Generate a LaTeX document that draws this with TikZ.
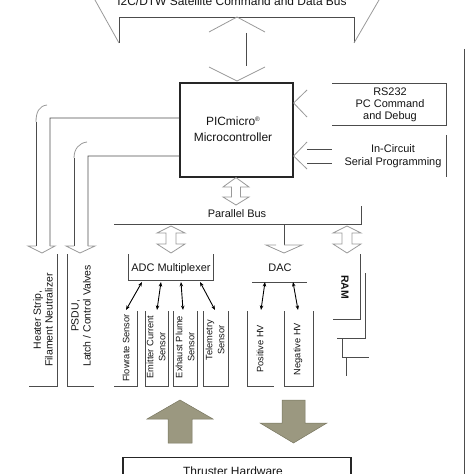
\documentclass[tikz,border=0pt]{standalone}
\usepackage{fontspec}
\setmainfont{Liberation Sans}
\usetikzlibrary{arrows.meta}
\definecolor{thrfill}{RGB}{155,152,128}
\definecolor{thrdraw}{RGB}{120,118,96}
\definecolor{txtc}{RGB}{20,20,20}
\newcommand\fntXII{\fontsize{12}{14}\selectfont}
\newcommand\fntXI{\fontsize{11}{12.3}\selectfont}
\newcommand\fntX{\fontsize{10.5}{12}\selectfont}
\newcommand\fntIX{\fontsize{9.3}{12}\selectfont}
\begin{document}
\begin{tikzpicture}[x=1bp,y=-1bp,
  ln/.style={draw=black!70, line width=0.9bp},
  lt/.style={draw=black!40, line width=0.8bp},
  boxst/.style={draw=black!85, line width=1.2bp},
  txt/.style={text=txtc, inner sep=0pt, font=\fntXI},
  rtxt/.style={text=txtc, inner sep=0pt, rotate=90, align=center},
  sarr/.style={draw=black, line width=0.9bp, {Stealth[length=4.5bp,width=3.5bp]}-{Stealth[length=4.5bp,width=3.5bp]}},
  thrarrow/.style={fill=thrfill, draw=thrdraw, line width=0.5bp}
]
\useasboundingbox (0,0) rectangle (474,474);
\clip (0,0) rectangle (474,474);

% top bus
\node[txt, font=\fntXII, anchor=base] (bus) at (232,6) {I2C/DTW Satellite Command and Data Bus};
\draw[lt] (95,0) -- (119,43);
\draw[ln] (119,43) -- (119,17) -- (354,17) -- (354,43);
\draw[lt] (354,43) -- (379,0);

% bus <-> PIC
\coordinate (tatop) at (237,17);
\coordinate (tabot) at (237,81);
\draw[lt] (209,32) -- (tatop) -- (265,32);
\draw[ln] (246,33) -- (246,66);
\draw[lt] (209,67) -- (tabot) -- (265,67);

% PIC box
\node[boxst, minimum width=113bp, minimum height=94bp, inner sep=0pt] (pic) at (236.5,130) {};
\node[txt, font=\fntXII, anchor=base] (pic1) at (233,126) {PICmicro\raisebox{4bp}{\fontsize{6.5}{7}\selectfont ®}};
\node[txt, font=\fntXII, anchor=base] (pic2) at (233,142) {Microcontroller};

% right side: RS232 and ICSP
\draw[ln] (332,83) -- (446,83) -- (446,125) -- (332,125);
\draw[lt] (307,90) -- ([yshift=27bp]pic.east) -- (307,117);
\node[txt, anchor=base] (rs1) at (390,96) {RS232};
\node[txt, anchor=base] (rs2) at (390,108) {PC Command};
\node[txt, anchor=base] (rs3) at (390,120) {and Debug};
\draw[lt] (307,142) -- ([yshift=-26bp]pic.east) -- (307,169);
\draw[ln] (307,149) -- (332,149);
\draw[ln] (307,163) -- (332,163);
\draw[ln] (446,135) -- (446,177);
\node[txt, anchor=base] (ic1) at (393,153) {In-Circuit};
\node[txt, anchor=base] (ic2) at (393,166) {Serial Programming};
\draw[ln] (464,49) -- (464,474);

% left pipes
\draw[ln] ([yshift=12bp]pic.west) -- (50,118) -- (50,246);
\draw[lt] (47,105) .. controls (39,106) and (36,112) .. (36,122);
\draw[ln] (36,122) -- (36,246);
\draw[lt] (36,246) -- (28,246) -- (42,253) -- (55,246) -- (50,246);
\draw[ln] ([yshift=-26bp]pic.west) -- (88,156) -- (88,246);
\draw[lt] (87,142) .. controls (79,143) and (74,149) .. (74,158);
\draw[ln] (74,158) -- (74,246);
\draw[lt] (74,246) -- (66,246) -- (80,253) -- (95,246) -- (88,246);

% PIC <-> parallel bus
\draw[lt] ([xshift=-0.5bp]pic.south) -- (249,187) -- (240.5,187) -- (240.5,197) -- (249,197) -- (236,205)
  -- (223,197) -- (231.5,197) -- (231.5,187) -- (223,187) -- cycle;
\node[txt, anchor=base] (pbus) at (237,218) {Parallel Bus};
\draw[ln] (114,224) -- (361,224) -- (361,206);

% ADC
\draw[lt] (171,226) -- (185,233) -- (176,233) -- (176,244) -- (185,244) -- (171,253)
  -- (157,244) -- (166,244) -- (166,233) -- (157,233) -- cycle;
\draw[ln] (128,254) -- (128,280) -- (213,280) -- (213,254);
\node[txt, anchor=base] (adc) at (171,271) {ADC Multiplexer};

% RAM arrow
\draw[lt] (347,226) -- (361,233) -- (352,233) -- (352,244) -- (361,244) -- (347,253)
  -- (333,244) -- (342,244) -- (342,233) -- (333,233) -- cycle;

% DAC
\draw[ln] (284,224) -- (284,245);
\draw[lt] (276,245) -- (266,245) -- (284,253) -- (302,245) -- (284,245);
\draw[ln] (252,282) -- (307,282);
\node[txt, anchor=base] (dac) at (280,271) {DAC};

% sensor arrows
\coordinate (a1s) at (142,282); \coordinate (a1e) at (126,310);
\coordinate (a2s) at (161,282); \coordinate (a2e) at (157,310);
\coordinate (a3s) at (181,282); \coordinate (a3e) at (183,310);
\coordinate (a4s) at (200,282); \coordinate (a4e) at (215,310);
\coordinate (d1s) at (265,282); \coordinate (d1e) at (261,310);
\coordinate (d2s) at (293,282); \coordinate (d2e) at (298,310);
\draw[sarr] (a1s) -- (a1e);
\draw[sarr] (a2s) -- (a2e);
\draw[sarr] (a3s) -- (a3e);
\draw[sarr] (a4s) -- (a4e);
\draw[sarr] (d1s) -- (d1e);
\draw[sarr] (d2s) -- (d2e);

% columns
\draw[ln] (57,254) -- (57,386) -- (29,386);
\draw[ln] (67,254) -- (67,386) -- (94,386);
\draw[ln] (137,311) -- (137,386) -- (114,386);
\draw[ln] (145,311) -- (145,386) -- (168,386) -- (168,311);
\draw[ln] (173,311) -- (173,386) -- (197,386) -- (197,311);
\draw[ln] (203,311) -- (203,386) -- (228,386) -- (228,311);
\draw[ln] (247,311) -- (247,386) -- (274,386);
\draw[ln] (284,311) -- (284,386) -- (313,386) -- (313,311);

\node[rtxt, font=\fntX] (heat) at (43,320) {Heater Strip,\\Filament Neutralizer};
\node[rtxt, font=\fntX] (psdu) at (81,316) {PSDU,\\Latch / Control Valves};
\node[rtxt, font=\fntIX] (flow) at (126,348) {Flowrate Sensor};
\node[rtxt, font=\fntIX] (emit) at (156,347) {Emitter Current\\Sensor};
\node[rtxt, font=\fntIX] (exh) at (185,347) {Exhaust Plume\\Sensor};
\node[rtxt, font=\fntIX] (tele) at (215,340) {Telemetry\\Sensor};
\node[rtxt, font=\fntIX] (phv) at (260,349) {Positive HV};
\node[rtxt, font=\fntIX] (nhv) at (298,349) {Negative HV};

% RAM
\draw[ln] (360,254) -- (360,319) -- (333,319);
\draw[ln] (365,273) -- (365,338) -- (337,338);
\draw[ln] (342,338) -- (342,357) -- (369,357);
\draw[ln] (346,357) -- (346,376);
\node[text=txtc, inner sep=0pt, rotate=-90, font=\fntX\bfseries] (ram) at (345,287) {RAM};

% thruster arrows
\draw[thrarrow] (180,400) -- (213,419) -- (192,419) -- (192,443) -- (168,443) -- (168,419) -- (147,419) -- cycle;
\draw[thrarrow] (282,400) -- (305,400) -- (305,423) -- (327,423) -- (293.5,443) -- (260,423) -- (282,423) -- cycle;

% thruster hardware
\node[boxst, minimum width=228bp, minimum height=40bp, anchor=north, inner sep=0pt] (thr) at (237,457) {};
\node[txt, font=\fntXII, anchor=base] (thrt) at (233,475) {Thruster Hardware};
\end{tikzpicture}
\end{document}
